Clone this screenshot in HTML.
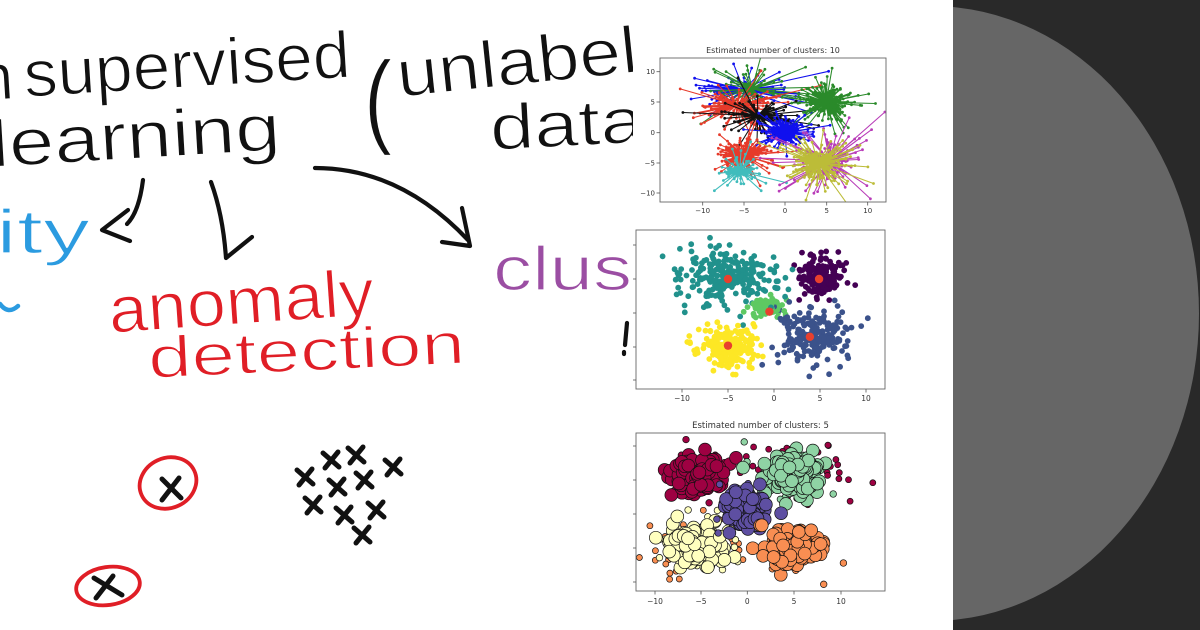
<!DOCTYPE html>
<html><head><meta charset="utf-8">
<style>
html,body{margin:0;padding:0;background:#fff;overflow:hidden;}
svg{display:block;}
.t{font-family:"DejaVu Sans","Liberation Sans",sans-serif;fill:#333;}
.h{font-family:"Liberation Sans",sans-serif;stroke-linejoin:round;stroke:#fff;stroke-width:1.3px;}
</style></head><body>
<svg id="s" xmlns="http://www.w3.org/2000/svg" width="1200" height="630" viewBox="0 0 1200 630">
<defs>
<clipPath id="k1"><rect x="660" y="58" width="226" height="144"/></clipPath>
<clipPath id="k2"><rect x="636" y="230" width="249" height="159"/></clipPath>
<clipPath id="k3"><rect x="636" y="433" width="249" height="158"/></clipPath>
<clipPath id="kr"><rect x="953" y="0" width="247" height="630"/></clipPath>
<clipPath id="kl"><rect x="0" y="0" width="633" height="630"/></clipPath>
</defs>
<rect width="1200" height="630" fill="#fff"/>

<!-- chart 1 -->
<g id="g1" clip-path="url(#k1)"></g>
<rect x="660" y="58" width="226" height="144" fill="none" stroke="#666" stroke-width="0.9"/>
<text class="t" x="773" y="53" font-size="8" text-anchor="middle" fill="#222">Estimated number of clusters: 10</text>
<g stroke="#555" stroke-width="0.8">
<line x1="702.7" y1="202" x2="702.7" y2="205.5"/><line x1="744" y1="202" x2="744" y2="205.5"/><line x1="785" y1="202" x2="785" y2="205.5"/><line x1="826.7" y1="202" x2="826.7" y2="205.5"/><line x1="867.7" y1="202" x2="867.7" y2="205.5"/>
<line x1="656.5" y1="71.7" x2="660" y2="71.7"/><line x1="656.5" y1="102" x2="660" y2="102"/><line x1="656.5" y1="132.7" x2="660" y2="132.7"/><line x1="656.5" y1="163" x2="660" y2="163"/><line x1="656.5" y1="193" x2="660" y2="193"/>
</g>
<g class="t" font-size="7" text-anchor="middle">
<text x="702.7" y="213">−10</text><text x="744" y="213">−5</text><text x="785" y="213">0</text><text x="826.7" y="213">5</text><text x="867.7" y="213">10</text>
</g>
<g class="t" font-size="7" text-anchor="end">
<text x="655" y="74.2">10</text><text x="655" y="104.5">5</text><text x="655" y="135.2">0</text><text x="655" y="165.5">−5</text><text x="655" y="195.5">−10</text>
</g>

<!-- chart 2 -->
<g id="g2" clip-path="url(#k2)"></g>
<rect x="636" y="230" width="249" height="159" fill="none" stroke="#666" stroke-width="0.9"/>
<g stroke="#555" stroke-width="0.8">
<line x1="682" y1="389" x2="682" y2="392.5"/><line x1="728" y1="389" x2="728" y2="392.5"/><line x1="774" y1="389" x2="774" y2="392.5"/><line x1="820" y1="389" x2="820" y2="392.5"/><line x1="866" y1="389" x2="866" y2="392.5"/>
<line x1="632.5" y1="245" x2="636" y2="245"/><line x1="632.5" y1="279" x2="636" y2="279"/><line x1="632.5" y1="313" x2="636" y2="313"/><line x1="632.5" y1="347" x2="636" y2="347"/><line x1="632.5" y1="380" x2="636" y2="380"/>
</g>
<g class="t" font-size="7.5" text-anchor="middle">
<text x="682" y="401">−10</text><text x="728" y="401">−5</text><text x="774" y="401">0</text><text x="820" y="401">5</text><text x="866" y="401">10</text>
</g>

<!-- chart 3 -->
<g id="g3" clip-path="url(#k3)"></g>
<rect x="636" y="433" width="249" height="158" fill="none" stroke="#666" stroke-width="0.9"/>
<text class="t" x="760.5" y="428" font-size="8.5" text-anchor="middle" fill="#222">Estimated number of clusters: 5</text>
<g stroke="#555" stroke-width="0.8">
<line x1="655" y1="591" x2="655" y2="594.5"/><line x1="701" y1="591" x2="701" y2="594.5"/><line x1="747.3" y1="591" x2="747.3" y2="594.5"/><line x1="794" y1="591" x2="794" y2="594.5"/><line x1="841" y1="591" x2="841" y2="594.5"/>
<line x1="632.5" y1="446" x2="636" y2="446"/><line x1="632.5" y1="480" x2="636" y2="480"/><line x1="632.5" y1="514" x2="636" y2="514"/><line x1="632.5" y1="548" x2="636" y2="548"/><line x1="632.5" y1="582" x2="636" y2="582"/>
</g>
<g class="t" font-size="7.5" text-anchor="middle">
<text x="655" y="604">−10</text><text x="701" y="604">−5</text><text x="747.3" y="604">0</text><text x="794" y="604">5</text><text x="841" y="604">10</text>
</g>

<!-- right panel -->
<rect x="953" y="0" width="247" height="630" fill="#292929"/>
<ellipse cx="931" cy="313.5" rx="268" ry="307.5" fill="#666666" clip-path="url(#kr)"/>

<!-- handwriting -->
<g clip-path="url(#kl)">
<rect x="0" y="0" width="633" height="630" fill="#fff"/>
<g class="h" fill="#111">
<text x="-22" y="98" font-size="66" transform="rotate(-3.5 25 97)">n</text>
<text x="25" y="97" font-size="66" textLength="327" lengthAdjust="spacingAndGlyphs" transform="rotate(-3.5 25 97)">supervised</text>
<text x="-8" y="167" font-size="66" textLength="290" lengthAdjust="spacingAndGlyphs" transform="rotate(-3.4 -8 167)">learning</text>
<text x="364" y="134" font-size="104" textLength="28" lengthAdjust="spacingAndGlyphs">(</text>
<text x="399" y="97" font-size="66" textLength="325" lengthAdjust="spacingAndGlyphs" transform="rotate(-6 399 97)">unlabeled</text>
<text x="491" y="150" font-size="64" textLength="181" lengthAdjust="spacingAndGlyphs" transform="rotate(-3 491 150)">data)</text>
</g>
<text class="h" x="-4" y="253" font-size="62" textLength="94" lengthAdjust="spacingAndGlyphs" fill="#2b9be0">ity</text>
<path d="M0,304 Q8,315 18,306" fill="none" stroke="#2b9be0" stroke-width="4.5" stroke-linecap="round"/>
<text class="h" x="493" y="290" font-size="62" textLength="335" lengthAdjust="spacingAndGlyphs" fill="#9b4ea3">clustering</text>
<g class="h" fill="#e01e26">
<text x="110" y="333" font-size="66" textLength="266" lengthAdjust="spacingAndGlyphs" transform="rotate(-4 110 333)">anomaly</text>
<text x="149" y="378" font-size="58" textLength="317" lengthAdjust="spacingAndGlyphs" transform="rotate(-2.7 149 378)">detection</text>
</g>
<g fill="none" stroke="#111" stroke-width="4.2" stroke-linecap="round" stroke-linejoin="round">
<path d="M143,180 Q139,212 127,224"/>
<path d="M128,210 L102,230 L130,241"/>
<path d="M211,182 Q223,215 226,258 L252,237"/>
<path d="M315,168 Q400,168 468,240"/>
<path d="M462,208 L470,246 L442,242"/>
<path d="M627,323 L625,345 M624,352 L624,354"/>
</g>
<g fill="none" stroke="#e01e26" stroke-width="3.8">
<ellipse cx="168" cy="483" rx="29" ry="25" transform="rotate(-25 168 483)"/>
<ellipse cx="108" cy="586" rx="32" ry="19" transform="rotate(-8 108 586)"/>
</g>
<g id="xs" fill="none" stroke="#111" stroke-width="5" stroke-linecap="round">
<path d="M162,479 L181,498 M179,478 L162,500"/>
<path d="M94,578 L122,595 M113,576 L96,598"/>
</g>
</g>
</svg>
<script>
(function(){
function R(s){return function(){s|=0;s=s+0x6D2B79F5|0;var t=Math.imul(s^s>>>15,1|s);t=t+Math.imul(t^t>>>7,61|t)^t;return((t^t>>>14)>>>0)/4294967296;}}
var r=R(20240611);
function g(){var u=1-r(),v=r();return Math.sqrt(-2*Math.log(u))*Math.cos(2*Math.PI*v);}
var NS='http://www.w3.org/2000/svg';
function el(p,n,a){var e=document.createElementNS(NS,n);for(var k in a)e.setAttribute(k,a[k]);p.appendChild(e);return e;}

/* hand-drawn x marks */
var xs=document.getElementById('xs');
var XP=[[331,460],[356,455],[393,467],[305,477],[337,487],[364,480],[313,505],[344,515],[376,510],[362,535]];
XP.forEach(function(p){var x=p[0],y=p[1];el(xs,'path',{d:'M'+(x-8)+','+(y-7)+' L'+(x+8)+','+(y+7)+' M'+(x+7)+','+(y-8)+' L'+(x-6)+','+(y+8)});});

/* chart 1 */
var g1=document.getElementById('g1');
function X1(v){return 785+8.24*v;} function Y1(v){return 132.7-6.1*v;}
var C1=[
 [-5,7,60,3,1.6,'#1010ee'],
 [-4,7.2,55,2.8,1.5,'#2a8a2a'],
 [-5.8,4.5,110,1.9,1.3,'#e63a2a'],
 [-3.3,2.8,80,2.2,1.4,'#111111'],
 [5,5,220,1.35,1.35,'#2a8a2a'],
 [0,0,180,1.15,1.0,'#1010ee'],
 [-5,-3.7,200,1.4,1.2,'#e63a2a'],
 [-5.5,-6.3,90,1.2,0.9,'#40bcbc'],
 [5.4,-4.6,110,2.1,2.0,'#b83cb8'],
 [4,-5,180,1.6,1.5,'#bcbc38']
];
C1.forEach(function(c){
 var ex=X1(c[0]),ey=Y1(c[1]),d='',pts=[];
 for(var i=0;i<c[2];i++){var s=r()<0.25?1.9:1;var px=X1(c[0]+g()*c[3]*s),py=Y1(c[1]+g()*c[4]*s);pts.push([px,py]);d+='M'+ex.toFixed(1)+','+ey.toFixed(1)+'L'+px.toFixed(1)+','+py.toFixed(1);}
 el(g1,'path',{d:d,stroke:c[5],'stroke-width':'1.05',fill:'none'});
 var dd='';pts.forEach(function(p){dd+='M'+(p[0]-1.4).toFixed(1)+','+p[1].toFixed(1)+'a1.4,1.4 0 1,0 2.8,0a1.4,1.4 0 1,0 -2.8,0';});
 el(g1,'path',{d:dd,fill:c[5]});
});

/* chart 2 */
var g2=document.getElementById('g2');
function X2(v){return 774+9.2*v;} function Y2(v){return 313-6.8*v;}
var C2=[
 [-5.2,5.3,240,2.6,2.1,'#21918c'],
 [5,5.3,170,1.25,1.25,'#440154'],
 [4.3,-3.4,210,2.0,1.9,'#3b528b'],
 [-5,-4.8,210,1.5,1.5,'#fde725'],
 [-0.7,0.6,80,0.8,0.8,'#5ec962']
];
var all=[];
C2.forEach(function(c){for(var i=0;i<c[2];i++){all.push([X2(c[0]+g()*c[3]),Y2(c[1]+g()*c[4]),c[5]]);}});
for(var i=all.length-1;i>0;i--){var j=Math.floor(r()*(i+1));var t=all[i];all[i]=all[j];all[j]=t;}
all.forEach(function(p){el(g2,'circle',{cx:p[0].toFixed(1),cy:p[1].toFixed(1),r:'2.9',fill:p[2]});});
[[-5,5],[4.9,5],[-0.5,0.2],[-5,-4.8],[3.9,-3.5]].forEach(function(c){el(g2,'circle',{cx:X2(c[0]),cy:Y2(c[1]),r:'4.2',fill:'#e8402e'});});

/* chart 3 */
var g3=document.getElementById('g3');
function X3(v){return 747.3+9.3*v;} function Y3(v){return 514-6.8*v;}
function dot(x,y,rad,col){el(g3,'circle',{cx:X3(x).toFixed(1),cy:Y3(y).toFixed(1),r:rad,fill:col,stroke:'#111','stroke-width':'0.7'});}
var MAR='#9e0142',MINT='#8fd3a4',ORA='#f98e52',YEL='#ffffbf',PUR='#5e4fa2';
/* maroon noise */
for(var i=0;i<45;i++){dot(0.5+r()*11,1.2+r()*9,'3',MAR);}
for(var i=0;i<8;i++){dot(-3+r()*4,5.5+r()*3,'3',MAR);}
dot(13.5,4.6,'3',MAR);
/* orange small around yellow cluster */
for(var i=0;i<28;i++){var a=r()*6.283,rr=3+r()*3;dot(-5.4+Math.cos(a)*rr*1.1,-4.8+Math.sin(a)*rr*0.9,'3',ORA);}
function cl(cx,cy,n,sx,sy,col,ns){
 for(var i=0;i<ns;i++){dot(cx+g()*sx*1.7,cy+g()*sy*1.7,'3.3',col);}
 for(var i=0;i<n;i++){dot(cx+g()*sx,cy+g()*sy,'6.4',col);}
}
cl(-5.3,5.7,150,1.35,1.4,MAR,10);
cl(-5.2,-4.8,150,1.5,1.6,YEL,25);
cl(5,6,160,1.5,1.45,MINT,15);
cl(0,0.6,120,1.1,1.3,PUR,6);
cl(5.2,-4.8,150,1.55,1.5,ORA,10);
})();
</script>
</body></html>
